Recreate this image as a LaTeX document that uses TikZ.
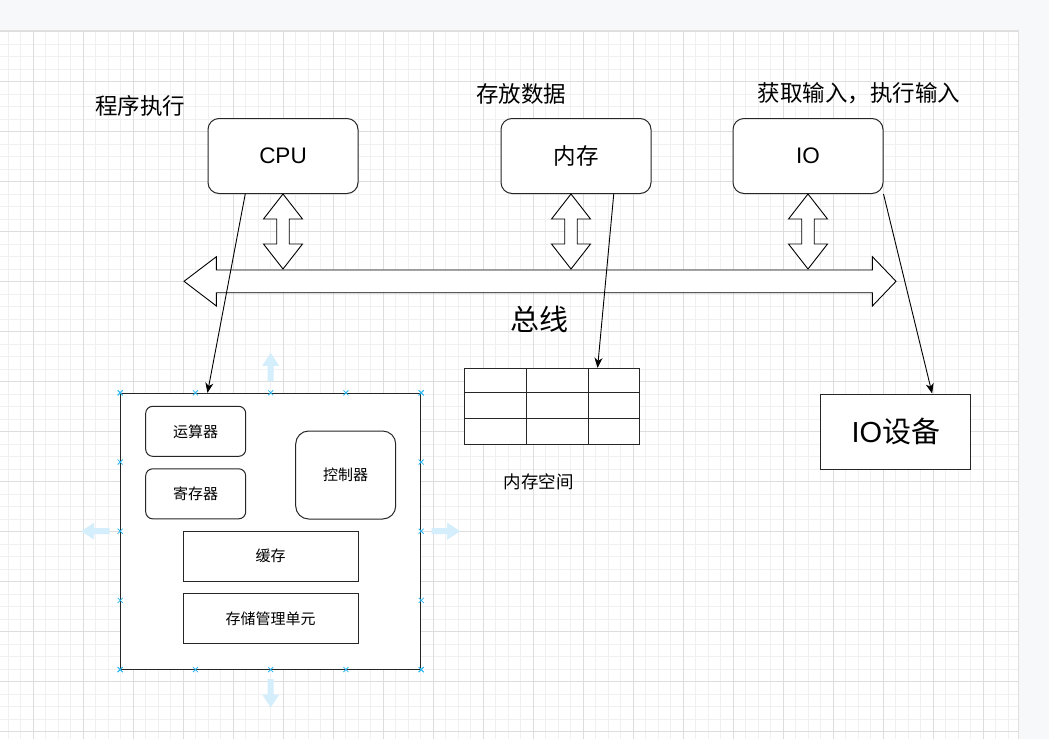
\documentclass[tikz,border=0pt]{standalone}
\usepackage{fontspec}
\setmainfont{Liberation Sans}
\newfontfamily\cjk{Noto Sans CJK SC}
\usetikzlibrary{arrows.meta,calc}
\definecolor{canvasgray}{HTML}{F7F8F9}
\definecolor{majorgrid}{HTML}{DDDDDD}
\definecolor{minorgrid}{HTML}{F0F0F0}
\definecolor{handle}{HTML}{29B6F2}
\definecolor{hover}{HTML}{D4EEFB}
\tikzset{
  updown/.pic={\draw[bus] (0,0) -- (19.5,25) -- (6.25,25) -- (6.25,50) -- (19.5,50) -- (0,75)
    -- (-19.5,50) -- (-6.25,50) -- (-6.25,25) -- (-19.5,25) -- cycle;},
  hoverarrow/.pic={\fill[hover] (0,0) -- (8.5,13) -- (3,13) -- (3,28.5) -- (-3,28.5) -- (-3,13) -- (-8.5,13) -- cycle;},
  handlemark/.pic={\draw[handle,line width=0.8pt] (-2.5,-2.5) -- (2.5,2.5) (-2.5,2.5) -- (2.5,-2.5);}
}
\begin{document}
\begin{tikzpicture}[x=1pt,y=-1pt,
  box/.style={draw=black!85,line width=1pt,fill=white,inner sep=0pt},
  unit/.style={box,rounded corners=11pt,minimum width=150pt,minimum height=75pt,font=\fontsize{22.5}{27}\selectfont},
  part/.style={box,rounded corners=7pt,minimum width=100pt,minimum height=50pt,font=\cjk\fontsize{15}{18}\selectfont},
  store/.style={box,minimum width=175pt,minimum height=50pt,font=\cjk\fontsize{15}{18}\selectfont},
  note/.style={inner sep=0pt,font=\cjk\fontsize{22.5}{27}\selectfont},
  bus/.style={draw=black,line width=0.9pt,fill=white,line join=miter},
  link/.style={line width=0.9pt,-{Stealth[length=10pt,width=8pt,inset=3pt]}}]
\useasboundingbox (0,0) rectangle (1049,739);
\fill[canvasgray] (0,0) rectangle (1049,739);
\fill[white] (0,30) rectangle (1018,739);
\foreach \i in {0,...,80}
  \draw[minorgrid,line width=1pt] ({8.33+12.5*\i},30) -- ({8.33+12.5*\i},739);
\foreach \j in {0,...,56}
  \draw[minorgrid,line width=1pt] (0,{31.7+12.5*\j}) -- (1018,{31.7+12.5*\j});
\foreach \i in {0,...,19}
  \draw[majorgrid,line width=1pt] ({33.33+50*\i},30) -- ({33.33+50*\i},739);
\foreach \j in {0,...,14}
  \draw[majorgrid,line width=1pt] (0,{31.7+50*\j}) -- (1018,{31.7+50*\j});
\draw[black!12,line width=1pt] (0,30) -- (1018,30) -- (1018,739);

\node[note] (cpunote) at (140,106) {程序执行};
\node[note] (memnote) at (521,93.5) {存放数据};
\node[note] (ionote) at (859,93.5) {获取输入，执行输入};

\node[unit] (cpu) at (283,156) {CPU};
\node[unit] (mem) at (576,156) {\cjk 内存};
\node[unit] (io) at (808,156) {IO};

\draw[bus] (184,281.3) -- (216.4,256.7) -- (216.4,270) -- (872.4,270) -- (872.4,256.7) -- (896,281.3)
  -- (872.4,306) -- (872.4,292.7) -- (216.4,292.7) -- (216.4,306) -- cycle;
\pic at (cpu.south) {updown};
\pic at ($(mem.south)+(-5,0)$) {updown};
\pic at (io.south) {updown};
\node[note,font=\cjk\fontsize{29}{34}\selectfont] (busnote) at (539,319) {总线};

\node[box,minimum width=300pt,minimum height=275.7pt] (cpubox) at (270.7,531.2) {};
\node[part] (alu) at (195.7,431.3) {运算器};
\node[part] (reg) at (195.7,493.8) {寄存器};
\node[part,rounded corners=13pt,minimum height=88pt] (ctrl) at (345.7,475) {控制器};
\node[store] (cache) at (270.7,556.3) {缓存};
\node[store] (mmu) at (270.7,618.8) {存储管理单元};

\foreach \f in {0,0.25,0.5,0.75,1} {
  \pic at ($(cpubox.north west)!\f!(cpubox.north east)$) {handlemark};
  \pic at ($(cpubox.south west)!\f!(cpubox.south east)$) {handlemark};
  \pic at ($(cpubox.north west)!\f!(cpubox.south west)$) {handlemark};
  \pic at ($(cpubox.north east)!\f!(cpubox.south east)$) {handlemark};
}
\pic at ($(cpubox.north)+(0,-40)$) {hoverarrow};
\pic[rotate=180] at ($(cpubox.south)+(0,38)$) {hoverarrow};
\pic[rotate=90] at ($(cpubox.west)+(-39,0)$) {hoverarrow};
\pic[rotate=-90] at ($(cpubox.east)+(39,0)$) {hoverarrow};

\node[box,minimum width=175pt,minimum height=75.7pt] (memtab) at (551.8,406.2) {};
\foreach \c in {62.7,125}
  \draw[black!85,line width=1pt] ($(memtab.north west)+(\c,0)$) -- ($(memtab.south west)+(\c,0)$);
\foreach \r in {25,50.7}
  \draw[black!85,line width=1pt] ($(memtab.north west)+(0,\r)$) -- ($(memtab.north east)+(0,\r)$);
\node[note,font=\cjk\fontsize{17.5}{21}\selectfont] (memspace) at (538.5,481.7) {内存空间};

\node[box,minimum width=150.3pt,minimum height=75pt,font=\fontsize{29}{34}\selectfont] (iodev) at (895.8,431.5) {IO{\cjk 设备}};

\draw[link] ($(cpu.south west)!0.25!(cpu.south east)$) -- ($(cpubox.north west)!0.29!(cpubox.north east)$);
\draw[link] ($(mem.south west)!0.75!(mem.south east)$) -- ($(memtab.north west)!0.76!(memtab.north east)$);
\draw[link] (io.south east) -- ($(iodev.north west)!0.74!(iodev.north east)$);
\end{tikzpicture}
\end{document}
